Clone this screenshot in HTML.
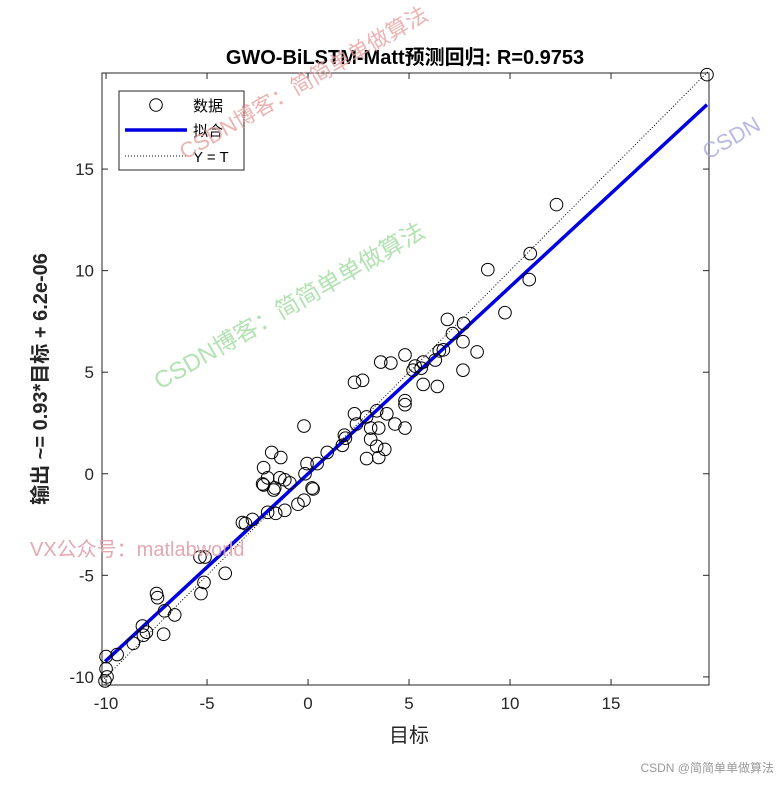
<!DOCTYPE html>
<html><head><meta charset="utf-8"><style>
body{margin:0;background:#fff;width:781px;height:781px;overflow:hidden}
svg text{font-family:"Liberation Sans","Noto Sans CJK SC",sans-serif}
</style></head><body>
<svg id="c" width="781" height="781" xmlns="http://www.w3.org/2000/svg">
<rect width="781" height="781" fill="#fff"/>
<g id="plot"></g>
</svg>
<script>
const xTicks=[-10,-5,0,5,10,15];
const yTicks=[-10,-5,0,5,10,15];
const targets=[19.75,12.3,8.9,11.0,10.95,9.75,8.37,6.9,7.15,7.7,7.67,6.7,7.67,6.5,6.3,5.7,5.6,5.3,4.8,5.2,5.7,6.4,3.6,4.1,2.3,2.7,4.8,4.8,-0.2,2.3,2.9,3.4,3.9,4.3,4.8,2.4,3.1,3.5,1.8,1.85,3.1,3.4,3.8,1.7,2.9,3.5,0.95,0.45,-0.05,-1.8,-1.35,-2.2,-2.0,-2.2,-1.7,-1.4,-0.9,-0.15,0.25,-0.5,-0.2,-1.15,-1.6,-2.0,-2.75,-3.25,-3.1,-2.25,-1.65,-1.15,0.2,-5.35,-5.1,-4.1,-5.15,-5.3,-7.5,-7.45,-7.1,-6.6,-8.2,-8.0,-8.15,-7.15,-8.65,-9.45,-10.0,-10.0,-9.95,-10.05];
const outputs=[19.65,13.25,10.05,10.84,9.56,7.93,6.0,7.6,6.9,7.4,6.5,6.1,5.1,6.05,5.6,5.5,5.2,5.3,5.85,5.1,4.4,4.3,5.5,5.45,4.5,4.6,3.6,3.4,2.35,2.95,2.8,3.1,2.95,2.45,2.25,2.45,2.25,2.25,1.9,1.75,1.7,1.35,1.2,1.4,0.75,0.8,1.05,0.5,0.5,1.05,0.8,0.3,-0.2,-0.55,-0.8,-0.2,-0.45,0.0,-0.75,-1.5,-1.3,-1.8,-1.95,-1.9,-2.25,-2.4,-2.45,-0.5,-0.7,-0.3,-0.7,-4.1,-4.1,-4.9,-5.35,-5.9,-5.9,-6.1,-6.75,-6.95,-7.5,-7.8,-7.95,-7.9,-8.35,-8.9,-9.0,-9.6,-10.0,-10.2];
const slope=0.92, intercept=0.0000062;
const X0=102,X1=709,Y0=73,Y1=685,xmin=-10.2,xmax=19.85,ymin=-10.4,ymax=19.73;
const sx=v=>X0+(v-xmin)/(xmax-xmin)*(X1-X0);
const sy=v=>Y1-(v-ymin)/(ymax-ymin)*(Y1-Y0);
const NS="http://www.w3.org/2000/svg";
const g=document.getElementById('plot');
function mk(t,a,txt){const e=document.createElementNS(NS,t);for(const k in a)e.setAttribute(k,a[k]);if(txt!==undefined)e.textContent=txt;g.appendChild(e);return e;}
let e=mk('rect',{x:X0,y:Y0,width:X1-X0,height:Y1-Y0,fill:'#fff',stroke:'#262626','stroke-width':1});


xTicks.forEach(t=>{const x=sx(t);
 mk('line',{x1:x,x2:x,y1:Y1,y2:Y1-6,stroke:'#262626'});mk('line',{x1:x,x2:x,y1:Y0,y2:Y0+6,stroke:'#262626'});
 const l=mk('text',{x:x,y:Y1+24,'text-anchor':'middle','font-size':17,fill:'#262626'},String(t));
 
 });
yTicks.forEach(t=>{const y=sy(t);
 mk('line',{x1:X0,x2:X0+6,y1:y,y2:y,stroke:'#262626'});mk('line',{x1:X1,x2:X1-6,y1:y,y2:y,stroke:'#262626'});
 const l=mk('text',{x:X0-8,y:y+6,'text-anchor':'end','font-size':17,fill:'#262626'},String(t));
 
 });
e=mk('line',{x1:sx(xmin),y1:sy(xmin),x2:sx(xmax),y2:sy(xmax),stroke:'#000','stroke-width':1,'stroke-dasharray':'1,2'});


const tmin=Math.min(...targets),tmax=Math.max(...targets);
e=mk('line',{x1:sx(tmin),y1:sy(slope*tmin+intercept),x2:sx(tmax),y2:sy(slope*tmax+intercept),stroke:'#0000e0','stroke-width':3.5});


targets.forEach((t,i)=>{const c=mk('circle',{cx:sx(t),cy:sy(outputs[i]),r:6.3,fill:'none',stroke:'#000','stroke-width':1});
 
 });
e=mk('rect',{x:119,y:91,width:125,height:79,fill:'#fff',stroke:'#262626'});


mk('circle',{cx:156,cy:105,r:6.3,fill:'none',stroke:'#000'});
e=mk('text',{x:193,y:111,'font-size':15},'数据');
mk('line',{x1:125,x2:187,y1:130,y2:130,stroke:'#0000e0','stroke-width':3.5});
e=mk('text',{x:193,y:136,'font-size':15},'拟合');
mk('line',{x1:125,x2:187,y1:156,y2:156,stroke:'#000','stroke-dasharray':'1,2'});
e=mk('text',{x:193,y:162,'font-size':15},'Y = T');
e=mk('text',{x:405,y:64,'text-anchor':'middle','font-size':20,'font-weight':'bold',fill:'#000'},'GWO-BiLSTM-Matt预测回归: R=0.9753');

e=mk('text',{x:409,y:742,'text-anchor':'middle','font-size':20,fill:'#262626'},'目标');

e=mk('text',{x:0,y:0,transform:'translate(47,379) rotate(-90)','text-anchor':'middle','font-size':20,'font-weight':'bold',fill:'#262626'},'输出 ~= 0.93*目标 + 6.2e-06');

e=mk('text',{x:0,y:0,transform:'translate(160,390) rotate(-30)','font-size':24,fill:'#9ddc9d','fill-opacity':0.8},'CSDN博客：简简单单做算法');

e=mk('text',{x:0,y:0,transform:'translate(185,160) rotate(-30)','font-size':22,fill:'#e7a0a0','fill-opacity':0.8},'CSDN博客：简简单单做算法');

e=mk('text',{x:0,y:0,transform:'translate(708,160) rotate(-30)','font-size':22,fill:'#a8a8e0','fill-opacity':0.8},'CSDN');

e=mk('text',{x:30,y:556,'font-size':20,fill:'#e0a0a8','fill-opacity':0.9},'VX公众号：matlabworld');

e=mk('text',{x:774,y:772,'text-anchor':'end','font-size':12,fill:'#999'},'CSDN @简简单单做算法');

</script>
</body></html>
